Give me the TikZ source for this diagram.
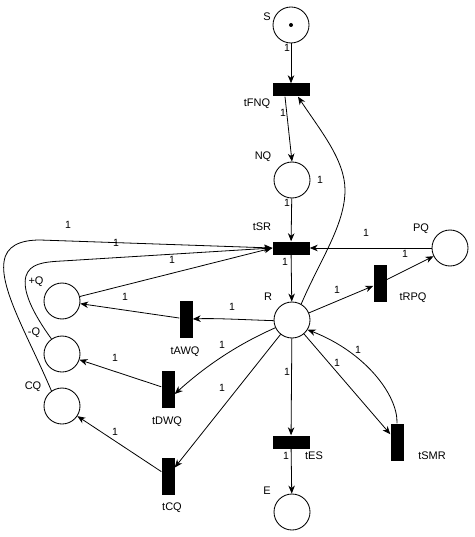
\documentclass[tikz,border=0pt]{standalone}
\usepackage{fontspec}
\setmainfont{Liberation Sans}
\usetikzlibrary{arrows.meta}
\begin{document}
\begin{tikzpicture}[x=1pt,y=-1pt,
  place/.style={draw,circle,line width=0.85pt,minimum size=36pt,inner sep=0pt},
  htrans/.style={fill=black,rectangle,minimum width=37pt,minimum height=13pt,inner sep=0pt},
  vtrans/.style={fill=black,rectangle,minimum width=13pt,minimum height=37pt,inner sep=0pt},
  arc/.style={draw,line width=0.8pt,-{Stealth[length=8pt,width=6.5pt,inset=2.5pt]}},
  lab/.style={inner sep=0pt,font=\fontsize{11}{12}\selectfont},
  wt/.style={inner sep=0pt,font=\fontsize{10.5}{12}\selectfont}]
\useasboundingbox (0,0) rectangle (474,537);
% places
\node[place] (S) at (291,25) {};
\fill (291,25) circle (2pt);
\node[place] (NQ) at (292,180) {};
\node[place] (R) at (292,320) {};
\node[place] (PQ) at (450,248) {};
\node[place] (pQ) at (62,301) {};
\node[place] (mQ) at (62,354) {};
\node[place] (CQ) at (62,406) {};
\node[place] (E) at (292,512) {};
% transitions
\node[htrans] (tFNQ) at (291,90) {};
\node[htrans] (tSR) at (291,248) {};
\node[htrans] (tES) at (291,442) {};
\node[vtrans] (tRPQ) at (380,283) {};
\node[vtrans] (tAWQ) at (186,319) {};
\node[vtrans] (tDWQ) at (168,389) {};
\node[vtrans] (tCQ) at (168,476) {};
\node[vtrans] (tSMR) at (397,442) {};
% names
\node[lab] (nS) at (267,17) {S};
\node[lab] (ntFNQ) at (257,104) {tFNQ};
\node[lab] (nNQ) at (263,157) {NQ};
\node[lab] (ntSR) at (262,227) {tSR};
\node[lab] (nR) at (268,297) {R};
\node[lab] (nPQ) at (421,229) {PQ};
\node[lab] (ntRPQ) at (413,298) {tRPQ};
\node[lab] (npQ) at (36,282) {+Q};
\node[lab] (nmQ) at (34,333) {-Q};
\node[lab] (nCQ) at (33,387) {CQ};
\node[lab] (ntAWQ) at (185,352) {tAWQ};
\node[lab] (ntDWQ) at (167,422) {tDWQ};
\node[lab] (ntCQ) at (172,508) {tCQ};
\node[lab] (ntES) at (314,456) {tES};
\node[lab] (nE) at (267,491) {E};
\node[lab] (ntSMR) at (432,456) {tSMR};
% arcs
\draw[arc] (S) -- (tFNQ);
\draw[arc] ([xshift=-6pt]tFNQ.south) -- (NQ.north);
\draw[arc] (R.60) .. controls (320,260) and (345,225) .. (345,190)
  .. controls (345,160) and (320,130) .. ([xshift=7pt]tFNQ.south);
\draw[arc] (NQ) -- (tSR);
\draw[arc] (tSR) -- (R);
\draw[arc] (PQ) -- (tSR);
\draw[arc] (R) -- (tRPQ);
\draw[arc] (tRPQ) -- (PQ);
\draw[arc] (R.182) .. controls (250,320) and (215,318) .. (tAWQ.east);
\draw[arc] (tAWQ) -- (pQ);
\draw[arc] (R.205) .. controls (243,342) and (210,362) .. ([yshift=-5pt]tDWQ.east);
\draw[arc] (tDWQ) -- (mQ);
\draw[arc] (R) -- (tCQ);
\draw[arc] (tCQ) -- (CQ);
\draw[arc] (R) -- (tES);
\draw[arc] (tES) -- (E);
\draw[arc] (R) -- (tSMR);
\draw[arc] (tSMR.north) .. controls (398,395) and (365,352) .. (R.-32);
\draw[arc] (pQ) -- (tSR.west);
\draw[arc] (mQ.125) .. controls (32,312) and (22,290) .. (26,276)
  .. controls (30,264) and (42,262) .. (62,261) -- (tSR.west);
\draw[arc] (CQ.125) .. controls (30,340) and (0,290) .. (4,262)
  .. controls (6,246) and (20,240) .. (40,240) -- (tSR.west);
% weights
\node[wt] (w1) at (287,48) {1};
\node[wt] (w2) at (283,113) {1};
\node[wt] (w3) at (320,180) {1};
\node[wt] (w4) at (287,203) {1};
\node[wt] (w5) at (366,233) {1};
\node[wt] (w6) at (405,254) {1};
\node[wt] (w7) at (285,262) {1};
\node[wt] (w8) at (337,290) {1};
\node[wt] (w9) at (232,307) {1};
\node[wt] (w10) at (68,225) {1};
\node[wt] (w11) at (116,243) {1};
\node[wt] (w12) at (172,260) {1};
\node[wt] (w13) at (125,297) {1};
\node[wt] (w14) at (222,345) {1};
\node[wt] (w15) at (115,358) {1};
\node[wt] (w16) at (222,388) {1};
\node[wt] (w17) at (115,432) {1};
\node[wt] (w18) at (287,372) {1};
\node[wt] (w19) at (337,363) {1};
\node[wt] (w20) at (358,350) {1};
\node[wt] (w21) at (286,456) {1};
\end{tikzpicture}
\end{document}
